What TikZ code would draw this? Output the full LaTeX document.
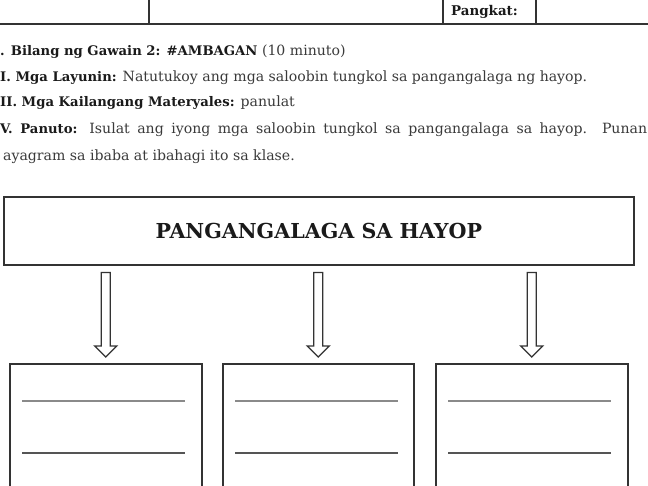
\documentclass[tikz,border=0pt]{standalone}
\usepackage{fontspec}
\setmainfont{DejaVu Serif}
\usetikzlibrary{calc}
\definecolor{ink}{HTML}{1A1A1A}
\definecolor{txt}{HTML}{3A3A3A}
\definecolor{rulec}{HTML}{333333}
\definecolor{lineA}{HTML}{8A8A8A}
\definecolor{lineB}{HTML}{555555}
\tikzset{
  frame/.style={draw=rulec, line width=1.6pt},
  textline/.style={anchor=base west, inner sep=0pt, text=txt, font=\fontsize{14.1}{16}\selectfont},
  hollowarrow/.style={draw=rulec, line width=1.3pt, fill=white, line join=miter},
  writeA/.style={draw=lineA, line width=2pt},
  writeB/.style={draw=lineB, line width=1.4pt},
  subbox/.style={frame, anchor=north west, minimum height=200pt, inner sep=0pt},
}
\newcommand{\lb}[1]{{\fontsize{13.2}{16}\selectfont\bfseries\color{ink}#1}}
\begin{document}
\begin{tikzpicture}[x=1pt,y=-1pt]
\useasboundingbox (0,0) rectangle (648,486);
\fill[white] (0,0) rectangle (648,486);
% header table
\coordinate (hl) at (0,24);
\coordinate (hr) at (648,24);
\draw[frame] (hl) -- (hr);
\foreach \x/\n in {149/v1,443/v2,536/v3}{
  \coordinate (\n-t) at (\x,0);
  \coordinate (\n-b) at (\x,24);
  \draw[frame] (\n-t) -- (\n-b);
}
\node[textline, text=ink, font=\bfseries\fontsize{13.4}{16}\selectfont] (pangkat) at (451,16) {Pangkat:};
% text lines
\node[textline] (l1) at (0,56) {\lb{. Bilang ng Gawain 2: \#AMBAGAN} (10 minuto)};
\node[textline] (l2) at (0,82) {\lb{I. Mga Layunin:} Natutukoy ang mga saloobin tungkol sa pangangalaga ng hayop.};
\node[textline] (l3) at (0,107) {\lb{II. Mga Kailangang Materyales:} panulat};
\node[textline] (l4) at (0,134) {\makebox[647pt][s]{\lb{V. Panuto:} Isulat ang iyong mga saloobin tungkol sa pangangalaga sa hayop. Punan}};
\node[textline] (l5) at (3,161) {ayagram sa ibaba at ibahagi ito sa klase.};
% main box
\node[frame, anchor=north west, minimum width=630pt, minimum height=68pt, inner sep=0pt,
      text=ink, font=\bfseries\fontsize{20.6}{24}\selectfont] (main) at (3,196) {PANGANGALAGA SA HAYOP};
% sub boxes
\node[subbox, minimum width=192pt] (s1) at (9,363) {};
\node[subbox, minimum width=191pt] (s2) at (222,363) {};
\node[subbox, minimum width=192pt] (s3) at (435,363) {};
\foreach \s in {s1,s2,s3}{
  \coordinate (\s-at) at ($(main.south -| \s.north)+(0,7)$);
  \coordinate (\s-ap) at ($(\s.north)+(0,-6)$);
  \draw[hollowarrow] ($(\s-at)+(-4.5,0)$) -- ($(\s-at)+(4.5,0)$) -- ($(\s-ap)+(4.5,-11)$)
     -- ($(\s-ap)+(11,-11)$) -- (\s-ap) -- ($(\s-ap)+(-11,-11)$) -- ($(\s-ap)+(-4.5,-11)$) -- cycle;
  \draw[writeA] ($(\s.north west)+(13,38)$) -- ($(\s.north west)+(176,38)$);
  \draw[writeB] ($(\s.north west)+(13,90)$) -- ($(\s.north west)+(176,90)$);
}
\end{tikzpicture}
\end{document}
